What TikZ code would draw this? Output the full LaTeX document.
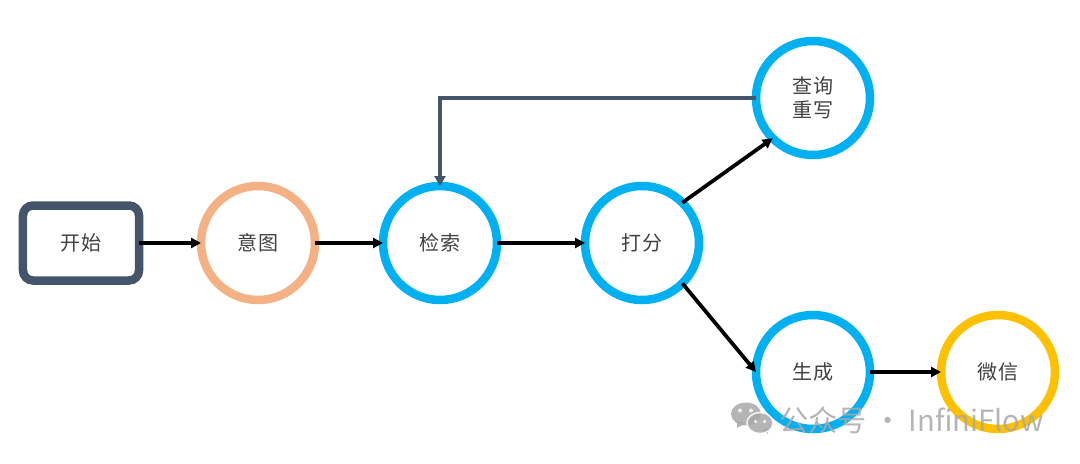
\documentclass[tikz,border=0pt]{standalone}
\usepackage{fontspec}
\setmainfont{Noto Sans CJK SC}
\usetikzlibrary{arrows.meta}
\definecolor{slate}{HTML}{44546A}
\definecolor{skyblue}{HTML}{00B0F0}
\definecolor{peach}{HTML}{F4B183}
\definecolor{gold}{HTML}{FFC000}
\definecolor{markgray}{HTML}{A8A8A8}
\tikzset{every node/.style={text=black!75, font=\fontsize{11.4}{13.6}\selectfont, align=center, inner sep=0pt, outer sep=0pt},
 ring/.style={circle, draw=#1, line width=0.17cm, minimum size=2.28cm},
 startbox/.style={draw=slate, line width=0.17cm, rounded corners=0.2cm, minimum width=2.32cm, minimum height=1.5cm},
 flow/.style={black, line width=0.075cm, -{Triangle[length=0.2cm,width=0.2cm]}},
 back/.style={slate, line width=0.08cm, -{Triangle[length=0.2cm,width=0.22cm]}}}

\begin{document}
\begin{tikzpicture}
  \useasboundingbox (0,0) rectangle (21.6,9.26);
  \node[startbox]        (s) at ( 1.62,4.40) {开始};
  \node[ring=peach]      (i) at ( 5.16,4.40) {意图};
  \node[ring=skyblue]    (r) at ( 8.80,4.40) {检索};
  \node[ring=skyblue]    (g) at (12.84,4.40) {打分};
  \node[ring=skyblue]    (q) at (16.26,7.30) {查询\\重写};
  \node[ring=skyblue]    (c) at (16.26,1.82) {生成};
  \node[ring=gold]       (w) at (19.96,1.82) {微信};
  \draw[flow] (s.east) -- (i.west);
  \draw[flow] (i.east) -- (r.west);
  \draw[flow] (r.east) -- (g.west);
  \draw[flow] (g.45)   -- (q.225);
  \draw[flow] (g.-45)  -- (c.west);
  \draw[flow] (c.east) -- (w.west);
  \draw[back] (q.west) -| (r.north);
  % watermark
  \begin{scope}[opacity=0.85]
   \fill[markgray] (14.92,0.98) ellipse (0.30 and 0.23);
   \fill[markgray] (14.74,0.84) -- (14.74,0.70) -- (14.92,0.80) -- cycle;
   \fill[markgray] (15.26,0.66) -- (15.36,0.58) -- (15.36,0.70) -- cycle;
   \fill[markgray,draw=white,line width=0.03cm] (15.20,0.80) ellipse (0.26 and 0.21);
   \fill[white] (14.80,1.05) circle (0.04) (15.02,1.05) circle (0.04)
                (15.11,0.83) circle (0.035) (15.29,0.83) circle (0.035);
   \node[text=markgray, font=\fontsize{16.6}{18}\selectfont, anchor=west] (m) at (15.58,0.86) {公众号 · InfiniFlow};
  \end{scope}
\end{tikzpicture}
\end{document}
